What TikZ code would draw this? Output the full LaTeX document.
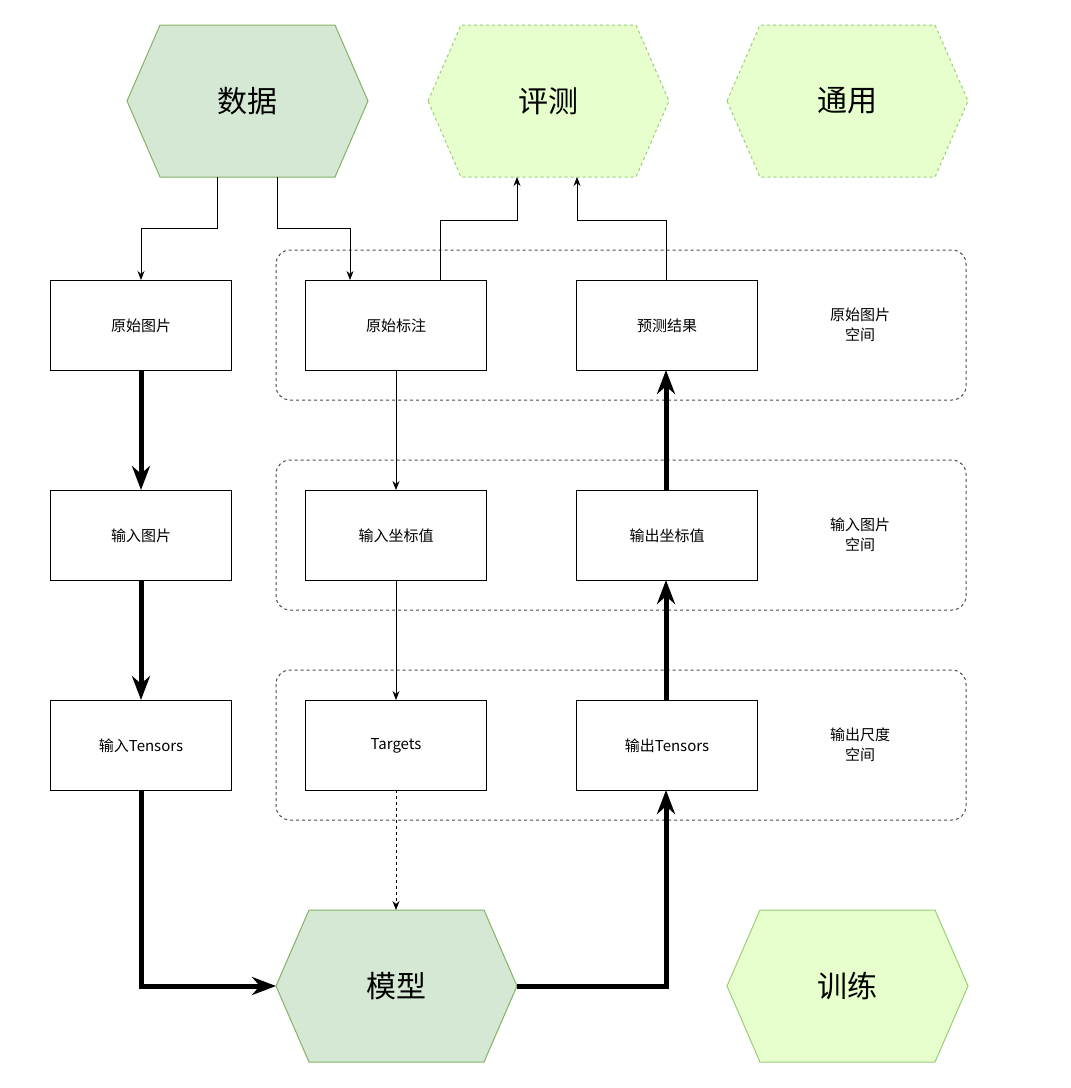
\documentclass[tikz,border=0pt]{standalone}
\usepackage{fontspec}
\setmainfont{Noto Sans CJK SC}
\usetikzlibrary{arrows.meta}
\definecolor{gfill}{HTML}{D5E8D4}\definecolor{gstroke}{HTML}{82B366}
\definecolor{lfill}{HTML}{E6FFCC}\definecolor{lstroke}{HTML}{97D077}
\begin{document}
\begin{tikzpicture}[x=1pt,y=-1pt,
 box/.style={draw,minimum width=181pt,minimum height=90pt,anchor=north west,inner sep=0pt,font=\fontsize{15}{18}\selectfont,line width=1pt},
 lbl/.style={align=center,font=\fontsize{15}{20}\selectfont},
 hl/.style={font=\fontsize{30}{36}\selectfont},
 thin/.style={-{Stealth[length=9pt,width=7pt]},line width=0.8pt},
 thick/.style={-{Stealth[length=24pt,width=18pt]},line width=5pt},
 grp/.style={draw=black!70,dashed,rounded corners=14pt,line width=1pt}]
\useasboundingbox (0,0) rectangle (1071,1088);
\newcommand\hexa[5]{\draw[#5] (#1,#2+76) -- (#1+33,#2) -- (#1+208,#2) -- (#1+241,#2+76) -- (#1+208,#2+152) -- (#1+33,#2+152) -- cycle; \node[hl] (#3) at (#1+120,#2+76) {#4};}
\hexa{127}{25}{data}{数据}{fill=gfill,draw=gstroke,line width=1pt}
\hexa{428}{25}{eval}{评测}{fill=lfill,draw=lstroke,dashed,line width=1pt}
\hexa{727}{25}{gen}{通用}{fill=lfill,draw=lstroke,dashed,line width=1pt}
\hexa{276}{910}{model}{模型}{fill=gfill,draw=gstroke,line width=1pt}
\hexa{727}{910}{train}{训练}{fill=lfill,draw=lstroke,line width=1pt}
\draw[grp] (276,250) rectangle (966,400);
\draw[grp] (276,460) rectangle (966,610);
\draw[grp] (276,670) rectangle (966,820);
\node[lbl] (s1) at (860,325) {原始图片\\空间};
\node[lbl] (s2) at (860,535) {输入图片\\空间};
\node[lbl] (s3) at (860,745) {输出尺度\\空间};
\node[box] (a1) at (50,280) {原始图片};
\node[box] (a2) at (50,490) {输入图片};
\node[box] (a3) at (50,700) {输入Tensors};
\node[box] (b1) at (305,280) {原始标注};
\node[box] (b2) at (305,490) {输入坐标值};
\node[box] (b3) at (305,700) {Targets};
\node[box] (c1) at (576,280) {预测结果};
\node[box] (c2) at (576,490) {输出坐标值};
\node[box] (c3) at (576,700) {输出Tensors};
\coordinate (d1) at (217,177); \coordinate (d2) at (277,177);
\draw[thin] (d1) -- (217,228) -- (141,228) -- (141,280);
\draw[thin] (d2) -- (277,228) -- (350,228) -- (350,280);
\draw[thin] (440,280) -- (440,220) -- (517,220) -- (517,177);
\draw[thin] (666,280) -- (666,220) -- (577,220) -- (577,177);
\draw[thin] (396,370) -- (396,490);
\draw[thin] (396,580) -- (396,700);
\draw[thin,dashed] (396,790) -- (396,910);
\draw[thick] (141,370) -- (141,490);
\draw[thick] (141,580) -- (141,700);
\draw[thick] (141,790) -- (141,986) -- (276,986);
\draw[thick] (517,986) -- (666,986) -- (666,790);
\draw[thick] (666,700) -- (666,580);
\draw[thick] (666,490) -- (666,370);
\end{tikzpicture}
\end{document}
